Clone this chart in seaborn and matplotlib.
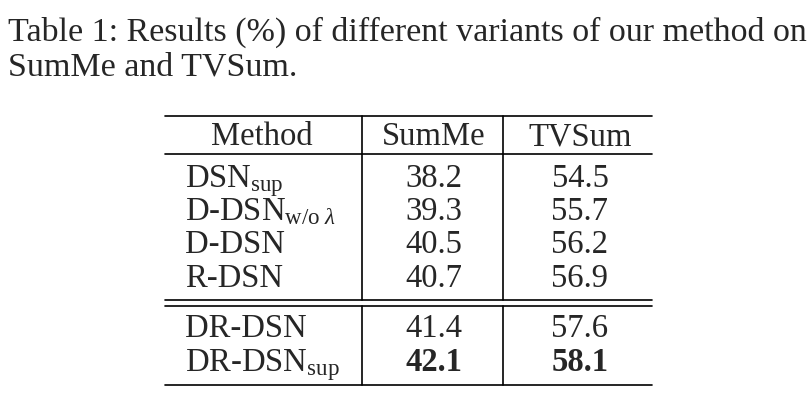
import matplotlib
matplotlib.use("Agg")
import matplotlib.pyplot as plt
import seaborn as sns

# --- DATA ---
methods = [r"DSN$_{\mathrm{sup}}$", r"D-DSN$_{\mathrm{w/o}\ \lambda}$", "D-DSN", "R-DSN",
           "DR-DSN", r"DR-DSN$_{\mathrm{sup}}$"]
summe = ["38.2", "39.3", "40.5", "40.7", "41.4", "42.1"]
tvsum = ["54.5", "55.7", "56.2", "56.9", "57.6", "58.1"]
headers = ["Method", "SumMe", "TVSum"]
caption = ["Table 1: Results (%) of different variants of our method on",
           "SumMe and TVSum."]

sns.set_theme(style="white")
plt.rcParams['font.family'] = ['Liberation Serif', 'DejaVu Serif']
plt.rcParams['mathtext.fontset'] = 'custom'
plt.rcParams['mathtext.rm'] = 'Liberation Serif'
plt.rcParams['mathtext.it'] = 'Liberation Serif:italic'

fig = plt.figure(figsize=(8.12, 4.04), dpi=100)
ax = fig.add_axes([0, 0, 1, 1])
ax.set_xlim(0, 812)
ax.set_ylim(404, 0)
ax.axis("off")

cfs = 24.5
fs = 23.5
ax.text(8, 41, caption[0], fontsize=cfs, va="baseline")
ax.text(8, 76, caption[1], fontsize=cfs, va="baseline")

x0, x1, v1, v2 = 165, 652, 362, 503
lw = 1.2
for y in (116, 154, 300, 306, 385):
    ax.plot([x0, x1], [y, y], color="black", lw=lw)
for vx in (v1, v2):
    ax.plot([vx, vx], [116, 300], color="black", lw=lw)
    ax.plot([vx, vx], [306, 385], color="black", lw=lw)

ax.text(262, 145, headers[0], fontsize=fs, ha="center", va="baseline")
ax.text(434, 145, headers[1], fontsize=fs, ha="center", va="baseline")
ax.text(580, 145, headers[2], fontsize=fs, ha="center", va="baseline")

rows_y = [187, 220, 253, 287, 337, 371]
for i, y in enumerate(rows_y):
    bold = i == len(rows_y) - 1
    w = "bold" if bold else "normal"
    ax.text(185, y, methods[i], fontsize=fs, va="baseline")
    ax.text(434, y, summe[i], fontsize=fs, ha="center", va="baseline", fontweight=w)
    ax.text(580, y, tvsum[i], fontsize=fs, ha="center", va="baseline", fontweight=w)

fig.savefig("out.png", dpi=100, facecolor="white")
